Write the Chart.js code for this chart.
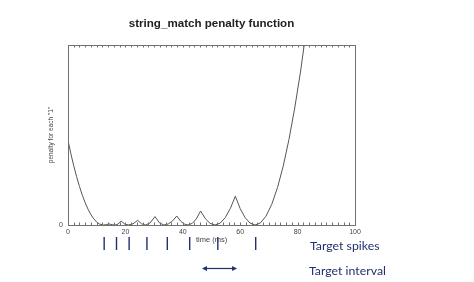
<!DOCTYPE html>
<html><head><meta charset="utf-8">
<script src="https://cdn.jsdelivr.net/npm/chart.js@4.4.0/dist/chart.umd.min.js"></script>
<style>html,body{margin:0;padding:0;background:#fff}</style>
</head><body>
<canvas id="c" width="474" height="282"></canvas>
<script>
// ---- data ----
const curveTimes   = [0,1,2,3,4,5,6,7,8,9,10,11,12.3, 13.3,14.3,15.4,16.5, 17.5,18.5,19.75,21, 22.65,24.3,25.65,27, 28.65,30.3,31.85,33.4, 34.9,36.4,37.9,39.2,40.5,41.8, 43.3,44.7,46.2,47.9,49.5,51.2, 53,54.8,56.6,58.3,60,61.7,63.4,65.2, 67,69,71,73,75,77,79,81,82.3];
const curvePenalty = [47,39.6,32.9,26.8,21.4,16.5,12.3,8.7,5.7,3.4,1.6,0.5,0, 0.15,0.6,0.15,0, 0.55,2.2,0.55,0, 0.65,2.6,0.65,0, 1.2,4.7,1.2,0, 0.56,2.2,5.0,2.2,0.56,0, 0.9,3.4,7.8,3.4,0.9,0, 1.0,4.1,9.3,16,9.1,4.1,1.1,0, 1.1,4.9,11.5,20.8,32.8,47.6,65,85,100];
const spikeTimes = [12.6,16.9,21.3,27.5,34.6,42.4,52.2,65.4];
const intervalRange = [46.7,58.9];
const xTickValues = [0,20,40,60,80,100];
const yTickValues = [0];
const minorTickStep = 2;

const NAVY = '#22306f';
const points = curveTimes.map((t,i)=>({x:t,y:curvePenalty[i]}));

const decor = {
  id:'decor',
  afterDraw(chart){
    const {ctx, chartArea:a, scales:{x}} = chart;
    ctx.save();
    // frame
    ctx.strokeStyle='#707070'; ctx.lineWidth=1;
    ctx.strokeRect(Math.round(a.left)+0.5, Math.round(a.top)+0.5, Math.round(a.right-a.left), Math.round(a.bottom-a.top));
    // inward minor ticks top & bottom
    ctx.beginPath();
    for(let t=x.min;t<=x.max+1e-9;t+=minorTickStep){
      const px=Math.round(x.getPixelForValue(t))+0.5;
      ctx.moveTo(px,a.bottom); ctx.lineTo(px,a.bottom-2.5);
      ctx.moveTo(px,a.top); ctx.lineTo(px,a.top+2.5);
    }
    ctx.stroke();
    // target spikes
    ctx.strokeStyle=NAVY; ctx.lineWidth=1.4;
    ctx.beginPath();
    spikeTimes.forEach(s=>{const px=x.getPixelForValue(s); ctx.moveTo(px,237); ctx.lineTo(px,250);});
    ctx.stroke();
    // interval arrow
    const x1=x.getPixelForValue(intervalRange[0]), x2=x.getPixelForValue(intervalRange[1]), y=268.5;
    ctx.lineWidth=1.2;
    ctx.beginPath(); ctx.moveTo(x1+3,y); ctx.lineTo(x2-3,y); ctx.stroke();
    ctx.fillStyle=NAVY;
    ctx.beginPath(); ctx.moveTo(x1,y); ctx.lineTo(x1+5,y-2.5); ctx.lineTo(x1+5,y+2.5); ctx.closePath(); ctx.fill();
    ctx.beginPath(); ctx.moveTo(x2,y); ctx.lineTo(x2-5,y-2.5); ctx.lineTo(x2-5,y+2.5); ctx.closePath(); ctx.fill();
    // labels
    ctx.fillStyle=NAVY; ctx.font='12.3px Lato'; ctx.textBaseline='middle'; ctx.textAlign='left';
    ctx.fillText('Target spikes',310,246.5);
    ctx.fillText('Target interval',309,271);
    ctx.restore();
  }
};

new Chart(document.getElementById('c'),{
  type:'line',
  data:{datasets:[{data:points, borderColor:'#555', borderWidth:1, pointRadius:0, tension:0, fill:false}]},
  options:{
    responsive:false, animation:false, devicePixelRatio:1,
    layout:{padding:{left:0,right:119,top:0,bottom:0}},
    plugins:{
      legend:{display:false}, tooltip:{enabled:false},
      title:{display:true, text:'string_match penalty function', fullSize:false, color:'#222',
        font:{family:'Liberation Sans, Arial, sans-serif', size:11.6, weight:'bold', lineHeight:1}, padding:{top:18,bottom:15.4}}
    },
    scales:{
      x:{type:'linear', min:0, max:100,
        afterBuildTicks(s){ s.ticks = xTickValues.map(v=>({value:v})); },
        afterFit(s){ s.height=57; },
        grid:{display:false, drawTicks:false}, border:{display:false},
        ticks:{padding:3, maxRotation:0, autoSkip:false, color:'#444', font:{family:'Liberation Sans, Arial, sans-serif', size:7}},
        title:{display:true, text:'time (ms)', color:'#444', font:{family:'Liberation Sans, Arial, sans-serif', size:7.5}, padding:{top:0,bottom:37.5}}
      },
      y:{type:'linear', min:0, max:100,
        afterBuildTicks(s){ s.ticks = yTickValues.map(v=>({value:v})); },
        afterFit(s){ s.width=68; },
        grid:{display:false, drawTicks:false}, border:{display:false},
        ticks:{padding:5, color:'#444', font:{family:'Liberation Sans, Arial, sans-serif', size:7}},
        title:{display:true, text:'penalty for each "1"', color:'#444', font:{family:'Liberation Sans, Arial, sans-serif', size:6.5}, padding:{top:47,bottom:0}}
      }
    }
  },
  plugins:[decor]
});
</script>
</body></html>
